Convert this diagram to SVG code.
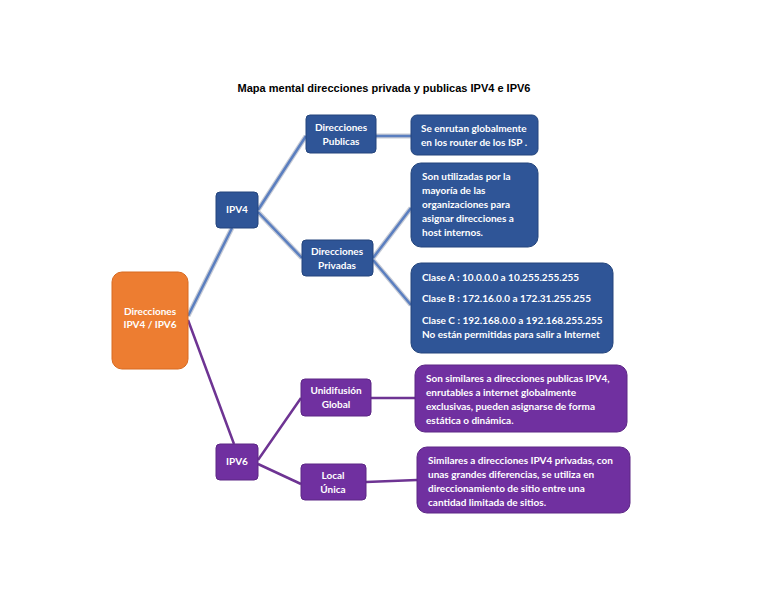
<svg xmlns="http://www.w3.org/2000/svg" width="768" height="594" viewBox="0 0 768 594">
<style>
.b{fill:#2f5597;stroke:#24457c;stroke-width:1}
.p{fill:#7030a0;stroke:#5c2685;stroke-width:1}
.o{fill:#ed7d31;stroke:#d86a20;stroke-width:1}
text{font-family:Lato,"Open Sans","Liberation Sans",sans-serif;font-weight:bold;font-size:10px;fill:#fff}
.c{text-anchor:middle}
.lb{stroke:#5b7fc0;stroke-width:2.5;fill:none}
.lp{stroke:#6e3493;stroke-width:2.5;fill:none}
.sh{stroke:#c8ccd6;stroke-width:5;fill:none}
</style>
<rect width="768" height="594" fill="#fff"/>
<text x="384" y="92" class="c" style="fill:#000;font-family:'Liberation Sans',Arial,sans-serif;font-size:11px">Mapa mental direcciones privada y publicas IPV4 e IPV6</text>
<g id="connectors">
<g class="sh"><path d="M188 316L232 228M258 210L306 136M258 212L302 258M376 136H411M373 258L411 208M373 260L411 305"/></g>
<g class="lb"><path d="M188 316L232 228M258 210L306 136M258 212L302 258M376 136H411M373 258L411 208M373 260L411 305"/></g>
<g class="lp"><path d="M188 320L234 444M258 460L301 398M258 464L301 484M371 398H415M366 482L417 480"/></g>
</g>
<g id="root"><rect class="o" x="112" y="272" width="76" height="97" rx="10"/><text class="c" x="150" y="315">Direcciones</text><text class="c" x="150" y="328">IPV4 / IPV6</text></g>
<g id="ipv4"><rect class="b" x="216" y="192" width="42" height="36" rx="4"/><text class="c" x="237" y="213">IPV4</text></g>
<g id="ipv6"><rect class="p" x="216" y="444" width="42" height="36" rx="4"/><text class="c" x="237" y="465">IPV6</text></g>
<g id="publicas"><rect class="b" x="306" y="115" width="70" height="38" rx="4"/><text class="c" x="341" y="131">Direcciones</text><text class="c" x="341" y="145">Publicas</text></g>
<g id="privadas"><rect class="b" x="302" y="240" width="71" height="36" rx="4"/><text class="c" x="337" y="255">Direcciones</text><text class="c" x="337" y="269">Privadas</text></g>
<g id="unidifusion"><rect class="p" x="301" y="379" width="70" height="37" rx="4"/><text class="c" x="336" y="394">Unidifusión</text><text class="c" x="336" y="408">Global</text></g>
<g id="local"><rect class="p" x="301" y="464" width="65" height="36" rx="4"/><text class="c" x="333" y="479">Local</text><text class="c" x="333" y="493">Única</text></g>
<g id="box1"><rect class="b" x="411" y="115" width="127" height="40" rx="6"/><text x="421" y="132">Se enrutan globalmente</text><text x="421" y="146">en los router de los ISP .</text></g>
<g id="box2"><rect class="b" x="411" y="163" width="127" height="84" rx="10"/><text x="422" y="180">Son utilizadas por la</text><text x="422" y="194">mayoría de las</text><text x="422" y="208">organizaciones para</text><text x="422" y="222">asignar direcciones a</text><text x="422" y="236">host internos.</text></g>
<g id="box3"><rect class="b" x="411" y="263" width="202" height="90" rx="10"/><text x="422" y="281">Clase A : 10.0.0.0 a 10.255.255.255</text><text x="422" y="302">Clase B : 172.16.0.0 a 172.31.255.255</text><text x="422" y="324">Clase C : 192.168.0.0 a 192.168.255.255</text><text x="422" y="338">No están permitidas para salir a Internet</text></g>
<g id="box4"><rect class="p" x="415" y="365" width="212" height="67" rx="10"/><text x="426" y="382">Son similares a direcciones publicas IPV4,</text><text x="426" y="396">enrutables a internet globalmente</text><text x="426" y="410">exclusivas, pueden asignarse de forma</text><text x="426" y="424">estática o dinámica.</text></g>
<g id="box5"><rect class="p" x="417" y="447" width="213" height="66" rx="10"/><text x="428" y="464">Similares a direcciones IPV4 privadas, con</text><text x="428" y="478">unas grandes diferencias, se utiliza en</text><text x="428" y="492">direccionamiento de sitio entre una</text><text x="428" y="506">cantidad limitada de sitios.</text></g>
</svg>
